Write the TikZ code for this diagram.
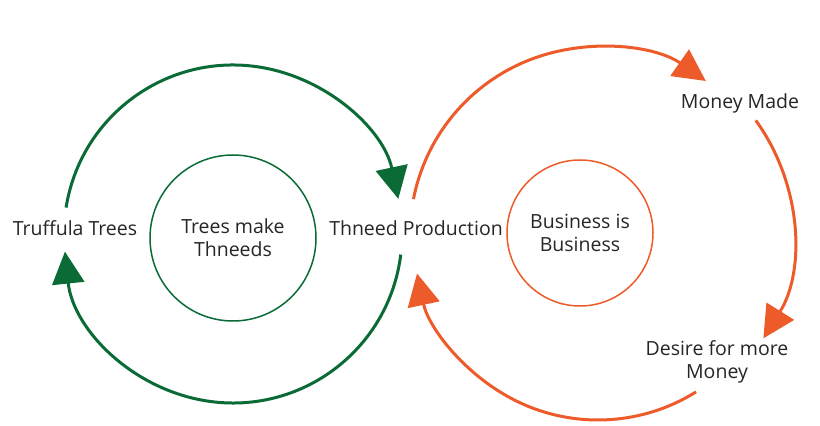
\documentclass[tikz,border=0pt]{standalone}
\usepackage{fontspec}
\setmainfont{Open Sans}
\usetikzlibrary{arrows.meta}
\definecolor{gr}{HTML}{0A6B36}
\definecolor{og}{HTML}{EE5B2B}
\begin{document}
\begin{tikzpicture}[x=1pt,y=1pt,
  lbl/.style={font=\fontsize{19.5}{23}\selectfont,align=center,text=black!85},
  garc/.style={draw=gr,line width=3pt,-{Triangle[length=32pt,width=32pt]}},
  oarc/.style={draw=og,line width=3pt,-{Triangle[length=32pt,width=32pt]}}]
\useasboundingbox (0,0) rectangle (820,426);
\fill[white] (0,0) rectangle (820,426);
\coordinate (G) at (233,192);
\coordinate (O) at (598,191);
\node[circle,draw=gr,line width=1.5pt,minimum size=166pt] (gi) at (233,188) {};
\node[circle,draw=og,line width=1.5pt,minimum size=146pt] (oi) at (580,193) {};
\node[lbl] (t1) at (gi) {Trees make\\Thneeds};
\node[lbl] (t2) at (oi) {Business is\\Business};
\node[lbl] (tt) at (75,198) {Truffula Trees};
\node[lbl] (tp) at (416,198) {Thneed Production};
\node[lbl] (mm) at (740,323) {Money Made};
\node[lbl] (dm) at (717,64) {Desire for more\\Money};
\draw[garc] ([shift={(171:169)}]G) arc[start angle=171,end angle=12,radius=169];
\draw[garc] ([shift={(-7:169)}]G) arc[start angle=-7,end angle=-174,radius=169];
\draw[oarc] ([shift={(169:188)}]O) arc[start angle=169,end angle=55,radius=188];
\draw[oarc] ([shift={(36:195)}]O) arc[start angle=36,end angle=-32,radius=195];
\draw[oarc] ([shift={(-58:185)}]O) arc[start angle=-58,end angle=-168,radius=185];
\end{tikzpicture}
\end{document}
